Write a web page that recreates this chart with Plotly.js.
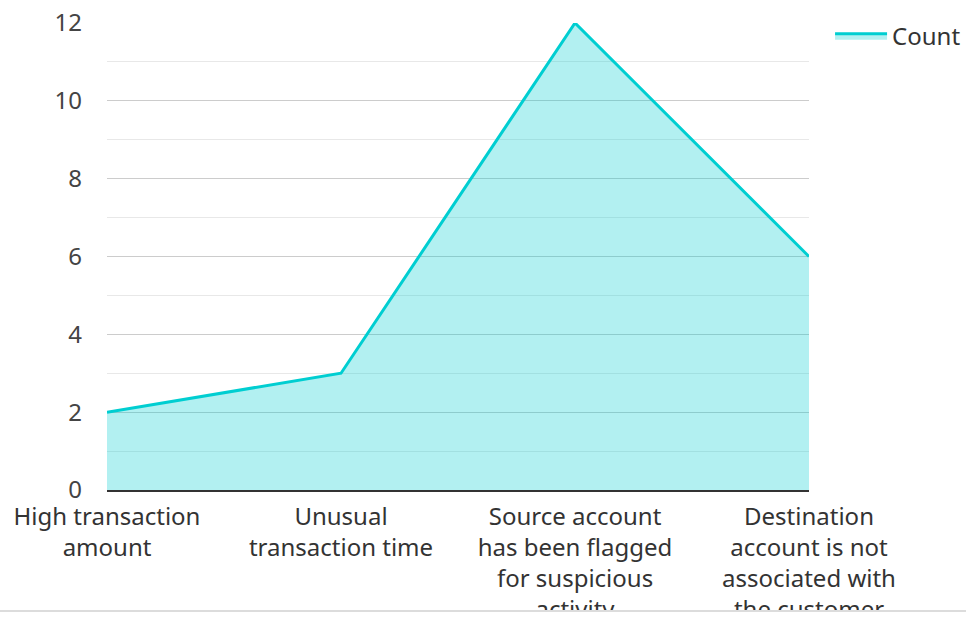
<!DOCTYPE html>
<html><head><meta charset="utf-8">
<script src="https://cdn.plot.ly/plotly-3.0.1.min.js"></script>
<style>
html,body{margin:0;padding:0;background:#fff;}
#wrap{width:966px;height:610px;overflow:hidden;border-bottom:2px solid #dcdcdc;}
#chart{width:966px;height:700px;}
</style></head><body>
<div id="wrap"><div id="chart"></div></div>
<script>
const categories = ["High transaction<br>amount","Unusual<br>transaction time","Source account<br>has been flagged<br>for suspicious<br>activity","Destination<br>account is not<br>associated with<br>the customer"];
const counts = [2, 3, 12, 6];
const seriesName = "Count";

const trace = {
  x: categories, y: counts, name: seriesName, type: 'scatter', mode: 'lines',
  fill: 'tozeroy', fillcolor: 'rgba(0,206,209,0.3)',
  line: {color: '#00CED1', width: 3}
};
const layout = {
  width: 966, height: 700,
  margin: {l: 107, r: 157, t: 23, b: 210, autoexpand: false},
  font: {family: 'Noto Sans, sans-serif', size: 24, color: '#333'},
  paper_bgcolor: '#fff', plot_bgcolor: '#fff',
  showlegend: true,
  legend: {x: 1.03, y: 1.02, xanchor: 'left', yanchor: 'top', itemwidth: 52, font: {size: 24, color: '#333'}, bgcolor: 'rgba(0,0,0,0)'},
  xaxis: {type: 'category', range: [0, 3], showgrid: false, showline: true, linecolor: '#333', linewidth: 2,
          tickfont: {size: 24, color: '#333'}, ticks: '', ticklabelstandoff: 4, fixedrange: true},
  yaxis: {range: [0, 12], dtick: 2, showgrid: true, gridcolor: '#cccccc', gridwidth: 1,
          minor: {dtick: 1, showgrid: true, gridcolor: '#e8e8e8', gridwidth: 1},
          zeroline: false, showline: false, ticks: '', ticklabelstandoff: 24,
          tickfont: {size: 24, color: '#444'}, fixedrange: true}
};
Plotly.newPlot('chart', [trace], layout, {displayModeBar: false, staticPlot: true});
</script>
</body></html>
